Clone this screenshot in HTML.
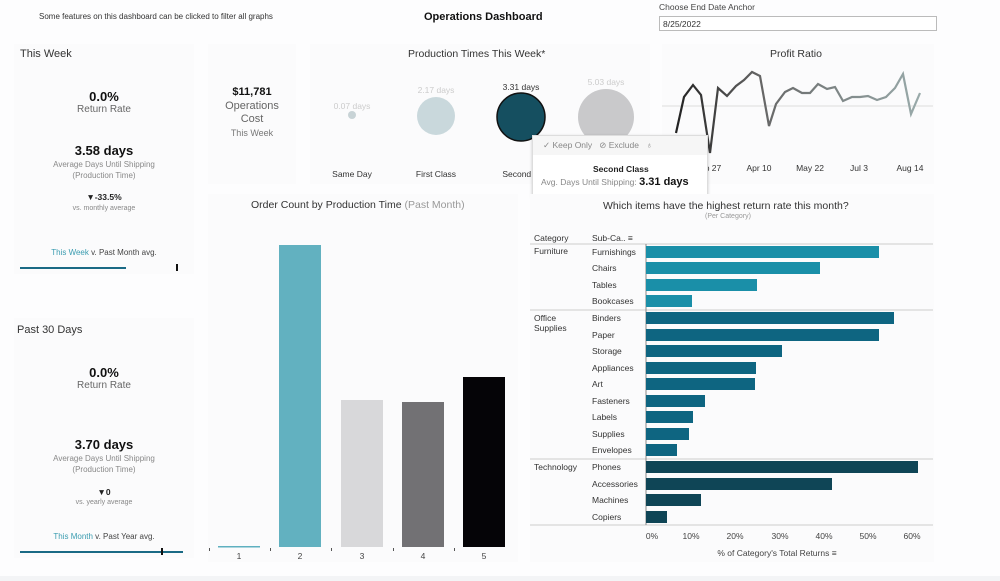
<!DOCTYPE html>
<html><head><meta charset="utf-8"><style>
*{margin:0;padding:0;box-sizing:border-box}
body{width:1000px;height:581px;background:#fdfdfe;font-family:"Liberation Sans",sans-serif;position:relative;overflow:hidden;color:#333}
.a{position:absolute;white-space:nowrap}
.p{position:absolute;background:#fbfbfc}
.c{text-align:center}
</style></head><body>
<div class="a" style="left:0;top:576px;width:1000px;height:5px;background:#f3f4f6"></div>
<div class="a" style="left:39px;top:12px;font-size:8px;color:#333">Some features on this dashboard can be clicked to filter all graphs</div>
<div class="a" style="left:424px;top:11px;font-size:11px;font-weight:bold;color:#111">Operations Dashboard</div>
<div class="a" style="left:659px;top:2px;font-size:8.5px;color:#444">Choose End Date Anchor</div>
<div class="a" style="left:659px;top:16px;width:278px;height:15px;border:1px solid #bbb;font-size:8.5px;padding:2px 3px;background:#fff">8/25/2022</div>

<div class="p" style="left:14px;top:44px;width:180px;height:230px"></div>
<div class="a" style="left:20px;top:48px;font-size:11px">This Week</div>
<div class="a c" style="left:14px;width:180px;top:89px;font-size:13px;font-weight:bold;color:#111">0.0%</div>
<div class="a c" style="left:14px;width:180px;top:104px;font-size:10px;color:#666">Return Rate</div>
<div class="a c" style="left:14px;width:180px;top:143px;font-size:13px;font-weight:bold;color:#111">3.58 days</div>
<div class="a c" style="left:14px;width:180px;top:159px;font-size:8px;color:#888;line-height:11px">Average Days Until Shipping<br>(Production Time)</div>
<div class="a c" style="left:14px;width:180px;top:192px;font-size:8.5px;font-weight:bold;color:#222">▼-33.5%</div>
<div class="a c" style="left:14px;width:180px;top:205px;font-size:7px;color:#888">vs. monthly average</div>
<div class="a c" style="left:14px;width:180px;top:248px;font-size:8px;color:#444"><span style="color:#3a9cb0">This Week</span> v. Past Month avg.</div>
<div class="a" style="left:20px;top:267px;width:106px;height:2px;background:#1a6a85"></div>
<div class="a" style="left:176px;top:264px;width:2px;height:7px;background:#111"></div>

<div class="p" style="left:14px;top:318px;width:180px;height:240px"></div>
<div class="a" style="left:17px;top:324px;font-size:11px">Past 30 Days</div>
<div class="a c" style="left:14px;width:180px;top:365px;font-size:13px;font-weight:bold;color:#111">0.0%</div>
<div class="a c" style="left:14px;width:180px;top:380px;font-size:10px;color:#666">Return Rate</div>
<div class="a c" style="left:14px;width:180px;top:437px;font-size:13px;font-weight:bold;color:#111">3.70 days</div>
<div class="a c" style="left:14px;width:180px;top:453px;font-size:8px;color:#888;line-height:11px">Average Days Until Shipping<br>(Production Time)</div>
<div class="a c" style="left:14px;width:180px;top:487px;font-size:8.5px;font-weight:bold;color:#222">▼0</div>
<div class="a c" style="left:14px;width:180px;top:499px;font-size:7px;color:#888">vs. yearly average</div>
<div class="a c" style="left:14px;width:180px;top:532px;font-size:8px;color:#444"><span style="color:#3a9cb0">This Month</span> v. Past Year avg.</div>
<div class="a" style="left:20px;top:551px;width:163px;height:2px;background:#1a6a85"></div>
<div class="a" style="left:161px;top:548px;width:2px;height:7px;background:#111"></div>

<div class="p" style="left:208px;top:44px;width:88px;height:140px"></div>
<div class="a c" style="left:208px;width:88px;top:86px;font-size:11px;font-weight:bold;color:#111">$11,781</div>
<div class="a c" style="left:208px;width:88px;top:100px;font-size:11px;color:#666;line-height:13px">Operations<br>Cost</div>
<div class="a c" style="left:208px;width:88px;top:128px;font-size:9px;color:#777">This Week</div>

<div class="p" style="left:310px;top:44px;width:340px;height:140px"></div>
<div class="a" style="left:408px;top:48px;font-size:10.5px;color:#333">Production Times This Week*</div>
<svg class="a" style="left:310px;top:60px" width="340" height="125">
<g font-family="Liberation Sans" font-size="8.5" text-anchor="middle">
<text x="42" y="49" fill="#ccc">0.07 days</text><circle cx="42" cy="55" r="4" fill="#c8d3d6"/>
<text x="126" y="33" fill="#ccc">2.17 days</text><circle cx="126" cy="56" r="19" fill="#c9d8dc"/>
<text x="211" y="30" fill="#333">3.31 days</text><circle cx="211" cy="57" r="24" fill="#154f60" stroke="#111" stroke-width="1.5"/>
<text x="296" y="25" fill="#ccc">5.03 days</text><circle cx="296" cy="57" r="28" fill="#c9c9cb"/>
<text x="42" y="117" fill="#333">Same Day</text><text x="126" y="117" fill="#333">First Class</text><text x="211" y="117" fill="#333">Second C</text>
</g></svg>

<div class="p" style="left:662px;top:44px;width:272px;height:140px"></div>
<div class="a" style="left:770px;top:48px;font-size:10.5px;color:#333">Profit Ratio</div>
<svg class="a" style="left:0;top:0" width="1000" height="200">
<defs><linearGradient id="g" x1="0" x2="1"><stop offset="0" stop-color="#222"/><stop offset="0.35" stop-color="#666"/><stop offset="1" stop-color="#9aa"/></linearGradient></defs>
<line x1="662" y1="106" x2="933" y2="106" stroke="#ddd"/>
<polyline fill="none" stroke="url(#g)" stroke-width="2.2" points="676,133 684,97 693,85 701,95 710,153 718,88 727,96 736,86 744,80 752,72 760,76 769,126 776,104 785,92 793,88 802,93 810,93 818,84 827,89 835,87 843,101 852,97 860,97 868,96 877,100 886,97 895,88 903,74 911,114 920,93"/>
<g font-family="Liberation Sans" font-size="8.5" fill="#333" text-anchor="middle"><text x="713" y="171">p 27</text><text x="759" y="171">Apr 10</text><text x="810" y="171">May 22</text><text x="859" y="171">Jul 3</text><text x="910" y="171">Aug 14</text></g>
</svg>

<div class="a" style="left:532px;top:135px;width:176px;height:62px;background:#fff;border:1px solid #ddd;box-shadow:0 1px 3px rgba(0,0,0,.2)"></div>
<div class="a" style="left:533px;top:136px;width:174px;height:19px;background:#f6f6f6"></div>
<div class="a" style="left:543px;top:140px;font-size:8.5px;color:#888">✓ Keep Only &nbsp; ⊘ Exclude &nbsp; ♁</div>
<div class="a" style="left:593px;top:164px;font-size:8.5px;font-weight:bold;color:#222">Second Class</div>
<div class="a" style="left:541px;top:176px;font-size:8.5px;color:#888">Avg. Days Until Shipping: <span style="font-size:11px;color:#111;font-weight:bold">3.31 days</span></div>

<div class="p" style="left:208px;top:194px;width:310px;height:368px"></div>
<div class="a" style="left:251px;top:199px;font-size:10.5px;color:#333">Order Count by Production Time <span style="color:#999">(Past Month)</span></div>
<svg class="a" style="left:0;top:0" width="520" height="581">
<rect x="218" y="546" width="42" height="1.5" fill="#5fb0c0"/>
<rect x="279" y="245" width="42" height="302" fill="#62b1c0"/>
<rect x="341" y="400" width="42" height="147" fill="#d8d8da"/>
<rect x="402" y="402" width="42" height="145" fill="#727174"/>
<rect x="463" y="377" width="42" height="170" fill="#050407"/>
<g fill="#555"><rect x="209" y="548" width="1" height="3"/><rect x="270" y="548" width="1" height="3"/><rect x="331" y="548" width="1" height="3"/><rect x="393" y="548" width="1" height="3"/><rect x="454" y="548" width="1" height="3"/></g>
<g font-family="Liberation Sans" font-size="8.5" fill="#444" text-anchor="middle"><text x="239" y="559">1</text><text x="300" y="559">2</text><text x="362" y="559">3</text><text x="423" y="559">4</text><text x="484" y="559">5</text></g>
</svg>

<div class="p" style="left:530px;top:194px;width:404px;height:368px"></div>
<div class="a" style="left:603px;top:200px;font-size:10.5px;color:#333">Which items have the highest return rate this month?</div>
<div class="a" style="left:705px;top:213px;font-size:7px;color:#999">(Per Category)</div>
<svg class="a" style="left:0;top:0" width="1000" height="581">
<g font-family="Liberation Sans" font-size="8.5" fill="#333">
<text x="534" y="241">Category</text><text x="592" y="241">Sub-Ca.. ≡</text>
<text x="534" y="254">Furniture</text><text x="534" y="321">Office</text><text x="534" y="331">Supplies</text><text x="534" y="470">Technology</text>
<text x="592" y="255">Furnishings</text><text x="592" y="271">Chairs</text><text x="592" y="288">Tables</text><text x="592" y="304">Bookcases</text>
<text x="592" y="321">Binders</text><text x="592" y="338">Paper</text><text x="592" y="354">Storage</text><text x="592" y="371">Appliances</text><text x="592" y="387">Art</text><text x="592" y="404">Fasteners</text><text x="592" y="420">Labels</text><text x="592" y="437">Supplies</text><text x="592" y="453">Envelopes</text>
<text x="592" y="470">Phones</text><text x="592" y="487">Accessories</text><text x="592" y="503">Machines</text><text x="592" y="520">Copiers</text>
</g>
<g stroke="#ccc"><line x1="530" y1="244" x2="933" y2="244"/><line x1="530" y1="310" x2="933" y2="310"/><line x1="530" y1="459" x2="933" y2="459"/><line x1="530" y1="525" x2="933" y2="525"/><line x1="646" y1="244" x2="646" y2="525" stroke="#888"/></g>
<g fill="#1a8fa8"><rect x="646" y="246" width="233" height="12"/><rect x="646" y="262" width="174" height="12"/><rect x="646" y="279" width="111" height="12"/><rect x="646" y="295" width="46" height="12"/></g>
<g fill="#0e6581"><rect x="646" y="312" width="248" height="12"/><rect x="646" y="329" width="233" height="12"/><rect x="646" y="345" width="136" height="12"/><rect x="646" y="362" width="110" height="12"/><rect x="646" y="378" width="109" height="12"/><rect x="646" y="395" width="59" height="12"/><rect x="646" y="411" width="47" height="12"/><rect x="646" y="428" width="43" height="12"/><rect x="646" y="444" width="31" height="12"/></g>
<g fill="#0f4556"><rect x="646" y="461" width="272" height="12"/><rect x="646" y="478" width="186" height="12"/><rect x="646" y="494" width="55" height="12"/><rect x="646" y="511" width="21" height="12"/></g>
<g font-family="Liberation Sans" font-size="8.5" fill="#444" text-anchor="middle"><text x="652" y="539">0%</text><text x="691" y="539">10%</text><text x="735" y="539">20%</text><text x="780" y="539">30%</text><text x="824" y="539">40%</text><text x="868" y="539">50%</text><text x="912" y="539">60%</text>
<text x="777" y="556">% of Category's Total Returns ≡</text></g>
</svg>
</body></html>
